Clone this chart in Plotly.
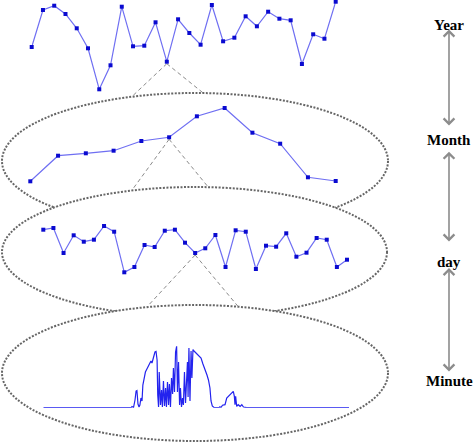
import plotly.graph_objects as go

# 多时间尺度示意图：年 -> 月 -> 日 -> 分钟
W, H = 474, 443

year_vals = [43, 80, 84.3, 76, 61.7, 41.7, 0.7, 24.7, 83.3, 43.7, 44.3, 67.7, 28.3, 70.7,
             57, 45.3, 85, 48.7, 52.3, 73.7, 63.7, 78.3, 71.3, 69.7, 26, 55.7, 51.3, 88.3]
month_vals = [3.7, 29.3, 31.7, 34.3, 44, 47.7, 68.7, 77, 52.3, 41.3, 7.7, 4]
day_vals = [45.3, 47, 22, 39.7, 33.3, 35.3, 49, 43.3, 2.7, 8, 30, 28, 44.3, 45.3, 32.3, 22,
            26.7, 40, 8, 44.7, 43.3, 6, 29.3, 28.3, 41.7, 18.3, 22.3, 37, 35.3, 8, 15.3]

minute_t = [0, 413, 418, 425, 432, 437, 441, 446, 451, 455, 460, 465, 469, 474, 481, 488, 496,
            503, 507, 512, 517, 521, 526, 531, 536, 539, 543, 546, 552, 557, 561, 566, 571, 576,
            580, 585, 590, 594, 599, 604, 609, 613, 618, 623, 628, 632, 637, 642, 646, 651, 656,
            660, 665, 670, 675, 679, 682, 686, 691, 696, 700, 705, 710, 715, 722, 729, 736, 743,
            752, 762, 771, 778, 785, 790, 796, 804, 828, 832, 837, 844, 856, 864, 871, 879, 887,
            895, 900, 903, 906, 911, 918, 927, 935, 943, 958, 1440]
minute_vals = [0, 0, 19, 3, 123, 267, 275, 59, 11, 43, 155, 107, 363, 475, 571, 619, 667,
               731, 747, 715, 795, 843, 891, 899, 763, 203, 11, 571, 43, 283, 11, 427, 27, 315,
               11, 411, 43, 379, 11, 475, 219, 635, 251, 891, 982, 251, 731, 43, 315, 11, 155,
               43, 571, 75, 363, 731, 171, 955, 107, 907, 475, 931, 907, 891, 875, 851, 827, 795,
               699, 619, 523, 443, 315, 107, 27, 3, 0, 16, 3, 40, 48, 155, 182, 208, 235,
               262, 182, 48, 182, 22, 48, 22, 48, 10, 0, 0]

scale_labels = ['Year', 'Month', 'day', 'Minute']

# 每个面板：像素位置 (x左, x右, y下, y上) 和数据范围
panels = {
    'year':   dict(px=(31.7, 335.7, 90, 1.7),    xr=(0, 27),   yr=(0, 88.3)),
    'month':  dict(px=(30.3, 335.7, 185, 105),   xr=(0, 11),   yr=(0, 80)),
    'day':    dict(px=(43.3, 347, 275, 225),     xr=(0, 30),   yr=(0, 50)),
    'minute': dict(px=(43.3, 349, 407.7, 345.2), xr=(0, 1440), yr=(0, 1000)),
}
ellipses = {'month': (2, 388, 93, 229), 'day': (2, 387, 187, 317), 'minute': (2, 388, 305, 441)}


def px_to_paper(x, y):
    return x / W, 1 - y / H


def data_to_px(name, i, v):
    p = panels[name]
    x0, x1, yb, yt = p['px']
    xa, xb = p['xr']
    ya, yb2 = p['yr']
    return x0 + (i - xa) / (xb - xa) * (x1 - x0), yb + (v - ya) / (yb2 - ya) * (yt - yb)


def ellipse_top(name, x):
    x0, x1, y0, y1 = ellipses[name]
    cx, cy, a, b = (x0 + x1) / 2, (y0 + y1) / 2, (x1 - x0) / 2, (y1 - y0) / 2
    return cy - b * (1 - ((x - cx) / a) ** 2) ** 0.5


fig = go.Figure()

series = [('year', list(range(len(year_vals))), year_vals, True),
          ('month', list(range(len(month_vals))), month_vals, True),
          ('day', list(range(len(day_vals))), day_vals, True),
          ('minute', minute_t, minute_vals, False)]

layout_axes = {}
for k, (name, xs, ys, markers) in enumerate(series):
    n = '' if k == 0 else str(k + 1)
    p = panels[name]
    x0, x1, yb, yt = p['px']
    layout_axes['xaxis' + n] = dict(domain=[x0 / W, x1 / W], range=list(p['xr']), visible=False,
                                    anchor='y' + n)
    layout_axes['yaxis' + n] = dict(domain=[1 - yb / H, 1 - yt / H], range=list(p['yr']),
                                    visible=False, anchor='x' + n)
    if markers:
        fig.add_trace(go.Scatter(x=xs, y=ys, xaxis='x' + n, yaxis='y' + n, mode='lines+markers',
                                 line=dict(color='#6f6ff2', width=1.2),
                                 marker=dict(symbol='square', size=4, color='#0a0ad0'),
                                 cliponaxis=False, showlegend=False, hoverinfo='skip'))
    else:
        fig.add_trace(go.Scatter(x=xs, y=ys, xaxis='x' + n, yaxis='y' + n, mode='lines',
                                 line=dict(color='#2323ee', width=1.2),
                                 cliponaxis=False, showlegend=False, hoverinfo='skip'))

shapes = []


def zoom_lines(src, idx, val, dst, xl, xr):
    sx, sy = data_to_px(src, idx, val)
    for ex in (xl, xr):
        ey = ellipse_top(dst, ex)
        a = px_to_paper(sx, sy + 2)
        b = px_to_paper(ex, ey)
        shapes.append(dict(type='line', xref='paper', yref='paper', x0=a[0], y0=a[1],
                           x1=b[0], y1=b[1], layer='below',
                           line=dict(color='#8a8a8a', width=1, dash='4px,3px')))


def add_ellipse(name):
    x0, x1, y0, y1 = ellipses[name]
    a = px_to_paper(x0, y1)
    b = px_to_paper(x1, y0)
    shapes.append(dict(type='circle', xref='paper', yref='paper', x0=a[0], y0=a[1],
                       x1=b[0], y1=b[1], layer='below', fillcolor='white',
                       line=dict(color='#666666', width=2, dash='2px,1.5px')))


zoom_lines('year', 12, year_vals[12], 'month', 131.7, 203.3)
add_ellipse('month')
zoom_lines('month', 5, month_vals[5], 'day', 131.7, 208.3)
add_ellipse('day')
zoom_lines('day', 15, day_vals[15], 'minute', 146.7, 238.3)
add_ellipse('minute')

annotations = []
label_y = [25, 140, 262, 381]
for lab, ly in zip(scale_labels, label_y):
    lx, lyp = px_to_paper(449, ly)
    annotations.append(dict(x=lx, y=lyp, xref='paper', yref='paper', text='<b>%s</b>' % lab,
                            showarrow=False, xanchor='center', yanchor='middle',
                            font=dict(family='Liberation Serif', size=15, color='black')))

arrow_spans = [(29.5, 127), (151.7, 243), (268, 373)]
for top, bot in arrow_spans:
    ax_, ay_ = px_to_paper(449, top)
    annotations.append(dict(x=ax_, y=ay_, xref='paper', yref='paper', text='',
                            showarrow=True, axref='pixel', ayref='pixel', ax=0, ay=bot - top,
                            arrowside='end+start', arrowhead=4, arrowsize=1.3, arrowwidth=1.6,
                            arrowcolor='#8c8c8c', standoff=0, startstandoff=0))

fig.update_layout(
    width=W, height=H,
    margin=dict(l=0, r=0, t=0, b=0),
    paper_bgcolor='white', plot_bgcolor='rgba(0,0,0,0)',
    shapes=shapes, annotations=annotations,
    showlegend=False,
    **layout_axes
)

fig.write_html('out.html', config={'displayModeBar': False},
               post_script="document.body.style.margin='0';")
